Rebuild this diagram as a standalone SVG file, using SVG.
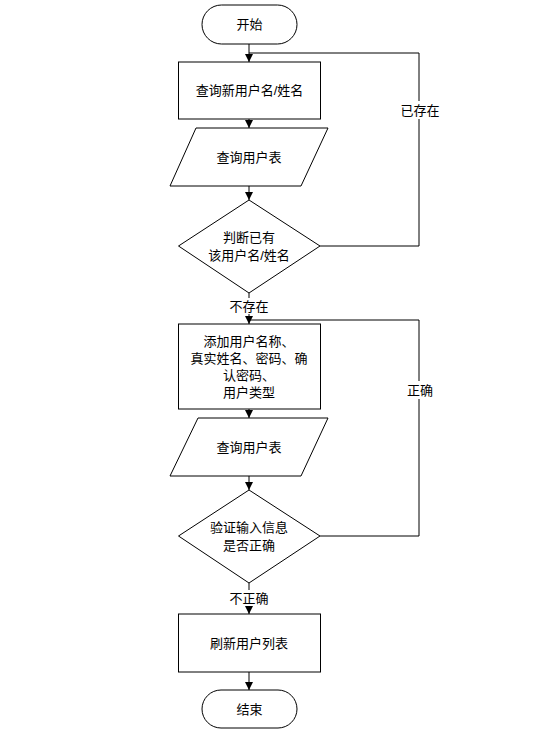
<svg xmlns="http://www.w3.org/2000/svg" width="560" height="730" viewBox="0 0 560 730">
<defs>
<marker id="arr" viewBox="0 0 8 8" refX="8" refY="4" markerWidth="8" markerHeight="8" markerUnits="userSpaceOnUse" orient="auto">
<path d="M0,0 L8,4 L0,8 Z" fill="#000"/>
</marker>
<style>
.s{fill:#fff;stroke:#000;stroke-width:1}
.t{font-family:"Liberation Sans","Noto Sans CJK SC",sans-serif;font-size:13px;fill:#000;text-anchor:middle;dominant-baseline:central}
.c{fill:none;stroke:#000;stroke-width:1}
.lb{fill:#fff}
</style>
</defs>
<rect width="560" height="730" fill="#fff"/>
<g id="connectors">
<path class="c" d="M249,44 V62" marker-end="url(#arr)"/>
<path class="c" d="M249,119 V128" marker-end="url(#arr)"/>
<path class="c" d="M249,186 V200" marker-end="url(#arr)"/>
<path class="c" d="M320,246 H419 V53 H249"/>
<path class="c" d="M249,293 V324" marker-end="url(#arr)"/>
<path class="c" d="M249,409 V418" marker-end="url(#arr)"/>
<path class="c" d="M249,476 V490" marker-end="url(#arr)"/>
<path class="c" d="M320,536 H419 V320 H249"/>
<path class="c" d="M249,583 V614" marker-end="url(#arr)"/>
<path class="c" d="M249,672 V690" marker-end="url(#arr)"/>
<rect class="lb" x="398" y="101" width="43" height="18"/>
<text class="t" x="420" y="110">已存在</text>
<rect class="lb" x="404" y="381" width="32" height="18"/>
<text class="t" x="420" y="390">正确</text>
<rect class="lb" x="227" y="298" width="44" height="16"/>
<text class="t" x="249" y="306">不存在</text>
<rect class="lb" x="227" y="590" width="44" height="16"/>
<text class="t" x="249" y="598">不正确</text>
</g>
<g id="start">
<rect class="s" x="202" y="5" width="95" height="39" rx="19.5"/>
<text class="t" x="249.5" y="24.5">开始</text>
</g>
<g id="query-name">
<rect class="s" x="178.5" y="62" width="142" height="57"/>
<text class="t" x="249.5" y="90.5">查询新用户名/姓名</text>
</g>
<g id="query-table-1">
<polygon class="s" points="196,128 328,128 301,186 170,186"/>
<text class="t" x="249" y="157">查询用户表</text>
</g>
<g id="check-exists">
<polygon class="s" points="249,200 320,246 249,293 178.5,246"/>
<text class="t" x="249" y="237">判断已有</text>
<text class="t" x="249" y="255">该用户名/姓名</text>
</g>
<g id="add-user">
<rect class="s" x="178.5" y="324" width="142" height="85"/>
<text class="t" x="249" y="341.5">添加用户名称、</text>
<text class="t" x="249" y="358.5">真实姓名、密码、确</text>
<text class="t" x="249" y="375">认密码、</text>
<text class="t" x="249" y="392">用户类型</text>
</g>
<g id="query-table-2">
<polygon class="s" points="198,418 328,418 301,476 170,476"/>
<text class="t" x="249" y="447">查询用户表</text>
</g>
<g id="check-valid">
<polygon class="s" points="249,490 320,536 249,583 178.5,536"/>
<text class="t" x="249" y="527">验证输入信息</text>
<text class="t" x="249" y="545">是否正确</text>
</g>
<g id="refresh">
<rect class="s" x="178.5" y="614" width="142" height="58"/>
<text class="t" x="249" y="643">刷新用户列表</text>
</g>
<g id="end">
<rect class="s" x="202" y="690" width="95" height="38" rx="19"/>
<text class="t" x="249.5" y="709">结束</text>
</g>
</svg>
